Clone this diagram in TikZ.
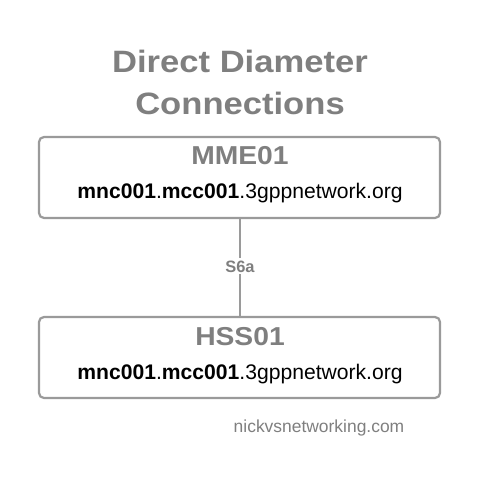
\documentclass[tikz,border=0pt]{standalone}
\usepackage{fontspec}
\setmainfont{Liberation Sans}
\begin{document}
\begin{tikzpicture}[x=1bp,y=-1bp,
  box/.style={draw=boxgray,line width=2.2bp,rounded corners=5bp,fill=white},
  lbl/.style={inner sep=0pt,anchor=base},
  conn/.style={draw=boxgray,line width=2.5bp}]
\definecolor{boxgray}{HTML}{9A9A9A}
\definecolor{txtgray}{HTML}{7F7F7F}
\useasboundingbox[fill=white] (0,0) rectangle (480,498);
\node[lbl,font=\fontsize{31}{31}\selectfont\bfseries,text=txtgray] (t1) at (240,73) {\scalebox{1.12}[1]{Direct Diameter}};
\node[lbl,font=\fontsize{31}{31}\selectfont\bfseries,text=txtgray] (t2) at (240,115) {\scalebox{1.12}[1]{Connections}};
\coordinate (mmeTL) at (39,137);
\coordinate (mmeBR) at (440,218);
\coordinate (hssTL) at (39,317);
\coordinate (hssBR) at (440,398);
\path[box] (mmeTL) rectangle (mmeBR);
\path[box] (hssTL) rectangle (hssBR);
\coordinate (mmeB) at (240,218);
\coordinate (hssT) at (240,317);
\node[lbl,font=\fontsize{16.5}{16.5}\selectfont\bfseries,text=txtgray,fill=white,inner sep=2pt] (s6a) at (240,272) {S6a};
\draw[conn] (mmeB) -- (s6a.north);
\draw[conn] (s6a.south) -- (hssT);
\node[lbl,font=\fontsize{26}{26}\selectfont\bfseries,text=txtgray] (mme) at (240,165) {\scalebox{1.09}[1]{MME01}};
\node[lbl,font=\fontsize{21.2}{21.2}\selectfont] (mmed) at (240,199) {\textbf{mnc001}.\textbf{mcc001}.3gppnetwork.org};
\node[lbl,font=\fontsize{26}{26}\selectfont\bfseries,text=txtgray] (hss) at (240,345) {\scalebox{1.09}[1]{HSS01}};
\node[lbl,font=\fontsize{21.2}{21.2}\selectfont] (hssd) at (240,379) {\textbf{mnc001}.\textbf{mcc001}.3gppnetwork.org};
\node[lbl,font=\fontsize{17.5}{17.5}\selectfont,text=txtgray] (site) at (319,432) {nickvsnetworking.com};
\end{tikzpicture}
\end{document}
